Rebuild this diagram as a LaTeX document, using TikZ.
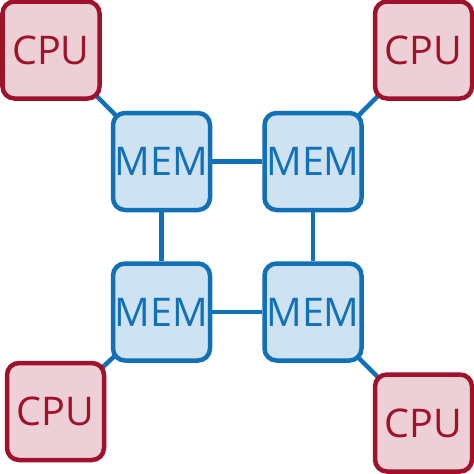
\documentclass[tikz,border=0pt]{standalone}
\usepackage{fontspec}
\setmainfont{Open Sans}
\usetikzlibrary{backgrounds}
\definecolor{cpuline}{HTML}{A0112B}
\definecolor{cpufill}{HTML}{EDCFD6}
\definecolor{memline}{HTML}{1070B8}
\definecolor{memfill}{HTML}{CFE2F2}
\begin{document}
\begin{tikzpicture}[x=1pt,y=1pt,
  cpubox/.style={draw=cpuline, fill=cpufill, text=cpuline, line width=4.5pt, rounded corners=12pt,
    minimum width=97pt, minimum height=97pt, inner sep=0pt, font=\fontsize{39.5}{42}\selectfont},
  membox/.style={draw=memline, fill=memfill, text=memline, line width=4.5pt, rounded corners=12pt,
    minimum width=97pt, minimum height=97pt, inner sep=0pt, font=\fontsize{39.5}{42}\selectfont},
  link/.style={draw=memline, line width=4.5pt}]
\useasboundingbox (0,0) rectangle (474,-474);
\node[cpubox] (c1) at (51,-50) {CPU};
\node[cpubox] (c2) at (423.5,-50) {CPU};
\node[cpubox] (c3) at (55.5,-411.5) {CPU};
\node[cpubox] (c4) at (423.5,-423) {CPU};
\node[membox] (m1) at (161.5,-161.5) {MEM};
\node[membox] (m2) at (313,-161.5) {MEM};
\node[membox] (m3) at (161.5,-312) {MEM};
\node[membox] (m4) at (313,-312) {MEM};
\begin{scope}[on background layer]
\draw[link] (m1) -- (m2);
\draw[link] (m3) -- (m4);
\draw[link] (m1) -- (m3);
\draw[link] (m2) -- (m4);
\draw[link] (c1.center) -- (m1.center);
\draw[link] (c2.center) -- (m2.center);
\draw[link] (c3.center) -- (m3.center);
\draw[link] (c4.center) -- (m4.center);
\end{scope}
\end{tikzpicture}
\end{document}
